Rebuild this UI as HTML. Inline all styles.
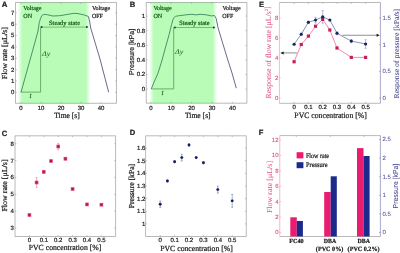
<!DOCTYPE html>
<html><head><meta charset="utf-8"><style>
html,body{margin:0;padding:0;background:#fff;}
svg{display:block;will-change:transform;}
</style></head><body>
<svg width="400" height="253" viewBox="0 0 400 253">
<rect width="400" height="253" fill="#fff"/>
<line x1="21" y1="103.3" x2="21" y2="101.9" stroke="#8c8c8c" stroke-width="0.5" />
<line x1="21" y1="2.5" x2="21" y2="3.9" stroke="#8c8c8c" stroke-width="0.5" />
<line x1="41" y1="103.3" x2="41" y2="101.9" stroke="#8c8c8c" stroke-width="0.5" />
<line x1="41" y1="2.5" x2="41" y2="3.9" stroke="#8c8c8c" stroke-width="0.5" />
<line x1="61" y1="103.3" x2="61" y2="101.9" stroke="#8c8c8c" stroke-width="0.5" />
<line x1="61" y1="2.5" x2="61" y2="3.9" stroke="#8c8c8c" stroke-width="0.5" />
<line x1="81" y1="103.3" x2="81" y2="101.9" stroke="#8c8c8c" stroke-width="0.5" />
<line x1="81" y1="2.5" x2="81" y2="3.9" stroke="#8c8c8c" stroke-width="0.5" />
<line x1="101" y1="103.3" x2="101" y2="101.9" stroke="#8c8c8c" stroke-width="0.5" />
<line x1="101" y1="2.5" x2="101" y2="3.9" stroke="#8c8c8c" stroke-width="0.5" />
<line x1="15.5" y1="92.3" x2="16.9" y2="92.3" stroke="#8c8c8c" stroke-width="0.5" />
<line x1="116.5" y1="92.3" x2="115.1" y2="92.3" stroke="#8c8c8c" stroke-width="0.5" />
<line x1="15.5" y1="80.95" x2="16.9" y2="80.95" stroke="#8c8c8c" stroke-width="0.5" />
<line x1="116.5" y1="80.95" x2="115.1" y2="80.95" stroke="#8c8c8c" stroke-width="0.5" />
<line x1="15.5" y1="69.6" x2="16.9" y2="69.6" stroke="#8c8c8c" stroke-width="0.5" />
<line x1="116.5" y1="69.6" x2="115.1" y2="69.6" stroke="#8c8c8c" stroke-width="0.5" />
<line x1="15.5" y1="58.25" x2="16.9" y2="58.25" stroke="#8c8c8c" stroke-width="0.5" />
<line x1="116.5" y1="58.25" x2="115.1" y2="58.25" stroke="#8c8c8c" stroke-width="0.5" />
<line x1="15.5" y1="46.9" x2="16.9" y2="46.9" stroke="#8c8c8c" stroke-width="0.5" />
<line x1="116.5" y1="46.9" x2="115.1" y2="46.9" stroke="#8c8c8c" stroke-width="0.5" />
<line x1="15.5" y1="35.55" x2="16.9" y2="35.55" stroke="#8c8c8c" stroke-width="0.5" />
<line x1="116.5" y1="35.55" x2="115.1" y2="35.55" stroke="#8c8c8c" stroke-width="0.5" />
<line x1="15.5" y1="24.2" x2="16.9" y2="24.2" stroke="#8c8c8c" stroke-width="0.5" />
<line x1="116.5" y1="24.2" x2="115.1" y2="24.2" stroke="#8c8c8c" stroke-width="0.5" />
<line x1="15.5" y1="12.85" x2="16.9" y2="12.85" stroke="#8c8c8c" stroke-width="0.5" />
<line x1="116.5" y1="12.85" x2="115.1" y2="12.85" stroke="#8c8c8c" stroke-width="0.5" />
<line x1="15.5" y1="2.5" x2="116.5" y2="2.5" stroke="#8c8c8c" stroke-width="0.6" />
<line x1="15.5" y1="103.3" x2="116.5" y2="103.3" stroke="#8c8c8c" stroke-width="0.6" />
<line x1="15.5" y1="2.5" x2="15.5" y2="103.3" stroke="#8c8c8c" stroke-width="0.6" />
<line x1="116.5" y1="2.5" x2="116.5" y2="103.3" stroke="#8c8c8c" stroke-width="0.6" />
<text x="21" y="108.5" font-family='"Liberation Sans", sans-serif' font-size="6.0" text-anchor="middle" dominant-baseline="central" text-rendering="geometricPrecision" fill="#1a1a1a" font-weight="normal" font-style="normal"  stroke="#1a1a1a" stroke-width="0.2">0</text>
<text x="41" y="108.5" font-family='"Liberation Sans", sans-serif' font-size="6.0" text-anchor="middle" dominant-baseline="central" text-rendering="geometricPrecision" fill="#1a1a1a" font-weight="normal" font-style="normal"  stroke="#1a1a1a" stroke-width="0.2">10</text>
<text x="61" y="108.5" font-family='"Liberation Sans", sans-serif' font-size="6.0" text-anchor="middle" dominant-baseline="central" text-rendering="geometricPrecision" fill="#1a1a1a" font-weight="normal" font-style="normal"  stroke="#1a1a1a" stroke-width="0.2">20</text>
<text x="81" y="108.5" font-family='"Liberation Sans", sans-serif' font-size="6.0" text-anchor="middle" dominant-baseline="central" text-rendering="geometricPrecision" fill="#1a1a1a" font-weight="normal" font-style="normal"  stroke="#1a1a1a" stroke-width="0.2">30</text>
<text x="101" y="108.5" font-family='"Liberation Sans", sans-serif' font-size="6.0" text-anchor="middle" dominant-baseline="central" text-rendering="geometricPrecision" fill="#1a1a1a" font-weight="normal" font-style="normal"  stroke="#1a1a1a" stroke-width="0.2">40</text>
<text x="14.3" y="93.2" font-family='"Liberation Sans", sans-serif' font-size="6.0" text-anchor="end" dominant-baseline="central" text-rendering="geometricPrecision" fill="#1a1a1a" font-weight="normal" font-style="normal"  stroke="#1a1a1a" stroke-width="0.2">0</text>
<text x="14.3" y="81.85" font-family='"Liberation Sans", sans-serif' font-size="6.0" text-anchor="end" dominant-baseline="central" text-rendering="geometricPrecision" fill="#1a1a1a" font-weight="normal" font-style="normal"  stroke="#1a1a1a" stroke-width="0.2">1</text>
<text x="14.3" y="70.5" font-family='"Liberation Sans", sans-serif' font-size="6.0" text-anchor="end" dominant-baseline="central" text-rendering="geometricPrecision" fill="#1a1a1a" font-weight="normal" font-style="normal"  stroke="#1a1a1a" stroke-width="0.2">2</text>
<text x="14.3" y="59.15" font-family='"Liberation Sans", sans-serif' font-size="6.0" text-anchor="end" dominant-baseline="central" text-rendering="geometricPrecision" fill="#1a1a1a" font-weight="normal" font-style="normal"  stroke="#1a1a1a" stroke-width="0.2">3</text>
<text x="14.3" y="47.8" font-family='"Liberation Sans", sans-serif' font-size="6.0" text-anchor="end" dominant-baseline="central" text-rendering="geometricPrecision" fill="#1a1a1a" font-weight="normal" font-style="normal"  stroke="#1a1a1a" stroke-width="0.2">4</text>
<text x="14.3" y="36.45" font-family='"Liberation Sans", sans-serif' font-size="6.0" text-anchor="end" dominant-baseline="central" text-rendering="geometricPrecision" fill="#1a1a1a" font-weight="normal" font-style="normal"  stroke="#1a1a1a" stroke-width="0.2">5</text>
<text x="14.3" y="25.1" font-family='"Liberation Sans", sans-serif' font-size="6.0" text-anchor="end" dominant-baseline="central" text-rendering="geometricPrecision" fill="#1a1a1a" font-weight="normal" font-style="normal"  stroke="#1a1a1a" stroke-width="0.2">6</text>
<text x="14.3" y="13.75" font-family='"Liberation Sans", sans-serif' font-size="6.0" text-anchor="end" dominant-baseline="central" text-rendering="geometricPrecision" fill="#1a1a1a" font-weight="normal" font-style="normal"  stroke="#1a1a1a" stroke-width="0.2">7</text>
<polyline points="21,92.3 37.8,32 39.3,22.5 40.6,18.2 42,15.4 43.7,14.4 47.2,14.7 52.8,16 59.8,15.7 68.2,14.3 73.8,13.3 78,13.6 84.3,15 88.3,16.4 89.6,21 90.7,28 100,59 108.7,92.3" fill="none" stroke="#62628a" stroke-width="0.95" stroke-linejoin="round" />
<polyline points="21,92.1 40.6,92.1 40.6,27.1" fill="none" stroke="#666" stroke-width="0.7" stroke-linejoin="round" />
<line x1="42.5" y1="27.1" x2="86.5" y2="27.1" stroke="#5a5a5a" stroke-width="0.55" />
<circle cx="41.6" cy="27.1" r="1.0" fill="#111"/>
<circle cx="86.9" cy="27.1" r="1.0" fill="#111"/>
<text x="64.5" y="23" font-family='"Liberation Serif", serif' font-size="6.5" text-anchor="middle" dominant-baseline="central" text-rendering="geometricPrecision" fill="#1a1a1a" font-weight="normal" font-style="normal" textLength="31" lengthAdjust="spacingAndGlyphs"  stroke="#1a1a1a" stroke-width="0.22">Steady state</text>
<text x="23.3" y="8.6" font-family='"Liberation Serif", serif' font-size="6.1" text-anchor="start" dominant-baseline="central" text-rendering="geometricPrecision" fill="#1a1a1a" font-weight="normal" font-style="normal" textLength="18.2" lengthAdjust="spacingAndGlyphs"  stroke="#1a1a1a" stroke-width="0.22">Voltage</text>
<text x="23.3" y="16.1" font-family='"Liberation Serif", serif' font-size="6.3" text-anchor="start" dominant-baseline="central" text-rendering="geometricPrecision" fill="#1a1a1a" font-weight="normal" font-style="normal" textLength="8.8" lengthAdjust="spacingAndGlyphs"  stroke="#1a1a1a" stroke-width="0.22">ON</text>
<text x="92" y="8.7" font-family='"Liberation Serif", serif' font-size="6.1" text-anchor="start" dominant-baseline="central" text-rendering="geometricPrecision" fill="#1a1a1a" font-weight="normal" font-style="normal" textLength="18.2" lengthAdjust="spacingAndGlyphs"  stroke="#1a1a1a" stroke-width="0.22">Voltage</text>
<text x="91.9" y="16.2" font-family='"Liberation Serif", serif' font-size="6.3" text-anchor="start" dominant-baseline="central" text-rendering="geometricPrecision" fill="#1a1a1a" font-weight="normal" font-style="normal" textLength="11" lengthAdjust="spacingAndGlyphs"  stroke="#1a1a1a" stroke-width="0.22">OFF</text>
<text x="30.6" y="95.8" font-family='"Liberation Serif", serif' font-size="7.5" text-anchor="middle" dominant-baseline="central" text-rendering="geometricPrecision" fill="#1a1a1a" font-weight="normal" font-style="italic"  stroke="#1a1a1a" stroke-width="0.1">t</text>
<text x="46.1" y="53.5" font-family='"Liberation Serif", serif' font-size="7.2" text-anchor="middle" dominant-baseline="central" text-rendering="geometricPrecision" fill="#1a1a1a" font-weight="normal" font-style="italic" textLength="8.3" lengthAdjust="spacingAndGlyphs" >&#916;y</text>
<linearGradient id="g1" gradientUnits="userSpaceOnUse" x1="17.9" y1="0" x2="90.3" y2="0"><stop offset="0" stop-color="#00f400" stop-opacity="0"/><stop offset="0.0608" stop-color="#00f400" stop-opacity="0.278"/><stop offset="0.9392" stop-color="#00f400" stop-opacity="0.278"/><stop offset="1" stop-color="#00f400" stop-opacity="0"/></linearGradient>
<rect x="17.9" y="2.5" width="72.4" height="100.8" fill="url(#g1)"/>
<text x="67" y="115.1" font-family='"Liberation Serif", serif' font-size="8.0" text-anchor="middle" dominant-baseline="central" text-rendering="geometricPrecision" fill="#1a1a1a" font-weight="normal" font-style="normal" textLength="25.6" lengthAdjust="spacingAndGlyphs"  stroke="#1a1a1a" stroke-width="0.22">Time [s]</text>
<text x="4.9" y="53.2" font-family='"Liberation Serif", serif' font-size="7.6" text-anchor="middle" dominant-baseline="central" text-rendering="geometricPrecision" fill="#1a1a1a" font-weight="normal" font-style="normal" textLength="52.2" lengthAdjust="spacingAndGlyphs" transform="rotate(-90 4.9 53.2)"  stroke="#1a1a1a" stroke-width="0.22">Flow rate [&#956;L/s]</text>
<text x="4.6" y="4.3" font-family='"Liberation Sans", sans-serif' font-size="7.8" text-anchor="middle" dominant-baseline="central" text-rendering="geometricPrecision" fill="#1a1a1a" font-weight="bold" font-style="normal"  stroke="#1a1a1a" stroke-width="0.2">A</text>
<line x1="150.8" y1="103.2" x2="150.8" y2="101.8" stroke="#8c8c8c" stroke-width="0.5" />
<line x1="150.8" y1="2.5" x2="150.8" y2="3.9" stroke="#8c8c8c" stroke-width="0.5" />
<line x1="171.2" y1="103.2" x2="171.2" y2="101.8" stroke="#8c8c8c" stroke-width="0.5" />
<line x1="171.2" y1="2.5" x2="171.2" y2="3.9" stroke="#8c8c8c" stroke-width="0.5" />
<line x1="191.6" y1="103.2" x2="191.6" y2="101.8" stroke="#8c8c8c" stroke-width="0.5" />
<line x1="191.6" y1="2.5" x2="191.6" y2="3.9" stroke="#8c8c8c" stroke-width="0.5" />
<line x1="212" y1="103.2" x2="212" y2="101.8" stroke="#8c8c8c" stroke-width="0.5" />
<line x1="212" y1="2.5" x2="212" y2="3.9" stroke="#8c8c8c" stroke-width="0.5" />
<line x1="232.4" y1="103.2" x2="232.4" y2="101.8" stroke="#8c8c8c" stroke-width="0.5" />
<line x1="232.4" y1="2.5" x2="232.4" y2="3.9" stroke="#8c8c8c" stroke-width="0.5" />
<line x1="146.3" y1="89.1" x2="147.7" y2="89.1" stroke="#8c8c8c" stroke-width="0.5" />
<line x1="246.9" y1="89.1" x2="245.5" y2="89.1" stroke="#8c8c8c" stroke-width="0.5" />
<line x1="146.3" y1="74.5" x2="147.7" y2="74.5" stroke="#8c8c8c" stroke-width="0.5" />
<line x1="246.9" y1="74.5" x2="245.5" y2="74.5" stroke="#8c8c8c" stroke-width="0.5" />
<line x1="146.3" y1="59.9" x2="147.7" y2="59.9" stroke="#8c8c8c" stroke-width="0.5" />
<line x1="246.9" y1="59.9" x2="245.5" y2="59.9" stroke="#8c8c8c" stroke-width="0.5" />
<line x1="146.3" y1="45.3" x2="147.7" y2="45.3" stroke="#8c8c8c" stroke-width="0.5" />
<line x1="246.9" y1="45.3" x2="245.5" y2="45.3" stroke="#8c8c8c" stroke-width="0.5" />
<line x1="146.3" y1="30.7" x2="147.7" y2="30.7" stroke="#8c8c8c" stroke-width="0.5" />
<line x1="246.9" y1="30.7" x2="245.5" y2="30.7" stroke="#8c8c8c" stroke-width="0.5" />
<line x1="146.3" y1="16.1" x2="147.7" y2="16.1" stroke="#8c8c8c" stroke-width="0.5" />
<line x1="246.9" y1="16.1" x2="245.5" y2="16.1" stroke="#8c8c8c" stroke-width="0.5" />
<line x1="146.3" y1="2.5" x2="246.9" y2="2.5" stroke="#8c8c8c" stroke-width="0.6" />
<line x1="146.3" y1="103.2" x2="246.9" y2="103.2" stroke="#8c8c8c" stroke-width="0.6" />
<line x1="146.3" y1="2.5" x2="146.3" y2="103.2" stroke="#8c8c8c" stroke-width="0.6" />
<line x1="246.9" y1="2.5" x2="246.9" y2="103.2" stroke="#8c8c8c" stroke-width="0.6" />
<text x="150.8" y="108.5" font-family='"Liberation Sans", sans-serif' font-size="6.0" text-anchor="middle" dominant-baseline="central" text-rendering="geometricPrecision" fill="#1a1a1a" font-weight="normal" font-style="normal"  stroke="#1a1a1a" stroke-width="0.2">0</text>
<text x="171.2" y="108.5" font-family='"Liberation Sans", sans-serif' font-size="6.0" text-anchor="middle" dominant-baseline="central" text-rendering="geometricPrecision" fill="#1a1a1a" font-weight="normal" font-style="normal"  stroke="#1a1a1a" stroke-width="0.2">10</text>
<text x="191.6" y="108.5" font-family='"Liberation Sans", sans-serif' font-size="6.0" text-anchor="middle" dominant-baseline="central" text-rendering="geometricPrecision" fill="#1a1a1a" font-weight="normal" font-style="normal"  stroke="#1a1a1a" stroke-width="0.2">20</text>
<text x="212" y="108.5" font-family='"Liberation Sans", sans-serif' font-size="6.0" text-anchor="middle" dominant-baseline="central" text-rendering="geometricPrecision" fill="#1a1a1a" font-weight="normal" font-style="normal"  stroke="#1a1a1a" stroke-width="0.2">30</text>
<text x="232.4" y="108.5" font-family='"Liberation Sans", sans-serif' font-size="6.0" text-anchor="middle" dominant-baseline="central" text-rendering="geometricPrecision" fill="#1a1a1a" font-weight="normal" font-style="normal"  stroke="#1a1a1a" stroke-width="0.2">40</text>
<text x="145.2" y="90" font-family='"Liberation Sans", sans-serif' font-size="6.0" text-anchor="end" dominant-baseline="central" text-rendering="geometricPrecision" fill="#1a1a1a" font-weight="normal" font-style="normal"  stroke="#1a1a1a" stroke-width="0.2">0</text>
<text x="145.2" y="75.4" font-family='"Liberation Sans", sans-serif' font-size="6.0" text-anchor="end" dominant-baseline="central" text-rendering="geometricPrecision" fill="#1a1a1a" font-weight="normal" font-style="normal"  stroke="#1a1a1a" stroke-width="0.2">0.2</text>
<text x="145.2" y="60.8" font-family='"Liberation Sans", sans-serif' font-size="6.0" text-anchor="end" dominant-baseline="central" text-rendering="geometricPrecision" fill="#1a1a1a" font-weight="normal" font-style="normal"  stroke="#1a1a1a" stroke-width="0.2">0.4</text>
<text x="145.2" y="46.2" font-family='"Liberation Sans", sans-serif' font-size="6.0" text-anchor="end" dominant-baseline="central" text-rendering="geometricPrecision" fill="#1a1a1a" font-weight="normal" font-style="normal"  stroke="#1a1a1a" stroke-width="0.2">0.6</text>
<text x="145.2" y="31.6" font-family='"Liberation Sans", sans-serif' font-size="6.0" text-anchor="end" dominant-baseline="central" text-rendering="geometricPrecision" fill="#1a1a1a" font-weight="normal" font-style="normal"  stroke="#1a1a1a" stroke-width="0.2">0.8</text>
<text x="145.2" y="17" font-family='"Liberation Sans", sans-serif' font-size="6.0" text-anchor="end" dominant-baseline="central" text-rendering="geometricPrecision" fill="#1a1a1a" font-weight="normal" font-style="normal"  stroke="#1a1a1a" stroke-width="0.2">1</text>
<polyline points="151.3,88.9 154.5,81 158,73.2 162.1,60 164.8,50 169.1,34.5 171.6,24.6 173,19.5 174.3,17.3 175.8,16.2 180,15.6 186.2,14.8 191.9,14.3 196.2,14.9 200,14.3 206.2,14.8 211.2,15.9 214.4,15.5 216.2,18.5 218.1,28 227.5,59 232,73 236.3,88.2" fill="none" stroke="#62628a" stroke-width="0.95" stroke-linejoin="round" />
<polyline points="151.3,88.9 173.7,88.9 173.7,27.5" fill="none" stroke="#666" stroke-width="0.7" stroke-linejoin="round" />
<line x1="175.5" y1="27.5" x2="213.2" y2="27.5" stroke="#5a5a5a" stroke-width="0.55" />
<circle cx="174.9" cy="27.5" r="1.0" fill="#111"/>
<circle cx="213.8" cy="27.5" r="1.0" fill="#111"/>
<text x="194.4" y="23.7" font-family='"Liberation Serif", serif' font-size="6.6" text-anchor="middle" dominant-baseline="central" text-rendering="geometricPrecision" fill="#1a1a1a" font-weight="normal" font-style="normal" textLength="30.5" lengthAdjust="spacingAndGlyphs"  stroke="#1a1a1a" stroke-width="0.22">Steady state</text>
<text x="153.4" y="8.9" font-family='"Liberation Serif", serif' font-size="6.1" text-anchor="start" dominant-baseline="central" text-rendering="geometricPrecision" fill="#1a1a1a" font-weight="normal" font-style="normal" textLength="18.2" lengthAdjust="spacingAndGlyphs"  stroke="#1a1a1a" stroke-width="0.22">Voltage</text>
<text x="153.4" y="16.4" font-family='"Liberation Serif", serif' font-size="6.3" text-anchor="start" dominant-baseline="central" text-rendering="geometricPrecision" fill="#1a1a1a" font-weight="normal" font-style="normal" textLength="8.8" lengthAdjust="spacingAndGlyphs"  stroke="#1a1a1a" stroke-width="0.22">ON</text>
<text x="222.5" y="9" font-family='"Liberation Serif", serif' font-size="6.1" text-anchor="start" dominant-baseline="central" text-rendering="geometricPrecision" fill="#1a1a1a" font-weight="normal" font-style="normal" textLength="18.2" lengthAdjust="spacingAndGlyphs"  stroke="#1a1a1a" stroke-width="0.22">Voltage</text>
<text x="222.3" y="16.5" font-family='"Liberation Serif", serif' font-size="6.3" text-anchor="start" dominant-baseline="central" text-rendering="geometricPrecision" fill="#1a1a1a" font-weight="normal" font-style="normal" textLength="11" lengthAdjust="spacingAndGlyphs"  stroke="#1a1a1a" stroke-width="0.22">OFF</text>
<text x="162.6" y="92.9" font-family='"Liberation Serif", serif' font-size="7.5" text-anchor="middle" dominant-baseline="central" text-rendering="geometricPrecision" fill="#1a1a1a" font-weight="normal" font-style="italic"  stroke="#1a1a1a" stroke-width="0.1">t</text>
<text x="179.2" y="51.9" font-family='"Liberation Serif", serif' font-size="7.2" text-anchor="middle" dominant-baseline="central" text-rendering="geometricPrecision" fill="#1a1a1a" font-weight="normal" font-style="italic" textLength="8.3" lengthAdjust="spacingAndGlyphs" >&#916;y</text>
<linearGradient id="g2" gradientUnits="userSpaceOnUse" x1="149.4" y1="0" x2="217" y2="0"><stop offset="0" stop-color="#00f400" stop-opacity="0"/><stop offset="0.0651" stop-color="#00f400" stop-opacity="0.278"/><stop offset="0.9349" stop-color="#00f400" stop-opacity="0.278"/><stop offset="1" stop-color="#00f400" stop-opacity="0"/></linearGradient>
<rect x="149.4" y="2.5" width="67.6" height="100.7" fill="url(#g2)"/>
<text x="197.8" y="115.3" font-family='"Liberation Serif", serif' font-size="8.0" text-anchor="middle" dominant-baseline="central" text-rendering="geometricPrecision" fill="#1a1a1a" font-weight="normal" font-style="normal" textLength="25.6" lengthAdjust="spacingAndGlyphs"  stroke="#1a1a1a" stroke-width="0.22">Time [s]</text>
<text x="131.1" y="51.9" font-family='"Liberation Sans", sans-serif' font-size="7.2" text-anchor="middle" dominant-baseline="central" text-rendering="geometricPrecision" fill="#1a1a1a" font-weight="normal" font-style="normal" textLength="46" lengthAdjust="spacingAndGlyphs" transform="rotate(-90 131.1 51.9)"  stroke="#1a1a1a" stroke-width="0.2">Pressure [kPa]</text>
<text x="132.5" y="4" font-family='"Liberation Sans", sans-serif' font-size="7.6" text-anchor="middle" dominant-baseline="central" text-rendering="geometricPrecision" fill="#1a1a1a" font-weight="bold" font-style="normal"  stroke="#1a1a1a" stroke-width="0.2">B</text>
<line x1="279.4" y1="2.5" x2="380.4" y2="2.5" stroke="#8c8c8c" stroke-width="0.6" />
<line x1="279.4" y1="103.3" x2="380.4" y2="103.3" stroke="#8c8c8c" stroke-width="0.6" />
<line x1="294.1" y1="103.3" x2="294.1" y2="101.9" stroke="#8c8c8c" stroke-width="0.5" />
<line x1="294.1" y1="2.5" x2="294.1" y2="3.9" stroke="#8c8c8c" stroke-width="0.5" />
<line x1="308.4" y1="103.3" x2="308.4" y2="101.9" stroke="#8c8c8c" stroke-width="0.5" />
<line x1="308.4" y1="2.5" x2="308.4" y2="3.9" stroke="#8c8c8c" stroke-width="0.5" />
<line x1="322.7" y1="103.3" x2="322.7" y2="101.9" stroke="#8c8c8c" stroke-width="0.5" />
<line x1="322.7" y1="2.5" x2="322.7" y2="3.9" stroke="#8c8c8c" stroke-width="0.5" />
<line x1="337" y1="103.3" x2="337" y2="101.9" stroke="#8c8c8c" stroke-width="0.5" />
<line x1="337" y1="2.5" x2="337" y2="3.9" stroke="#8c8c8c" stroke-width="0.5" />
<line x1="351.3" y1="103.3" x2="351.3" y2="101.9" stroke="#8c8c8c" stroke-width="0.5" />
<line x1="351.3" y1="2.5" x2="351.3" y2="3.9" stroke="#8c8c8c" stroke-width="0.5" />
<line x1="365.6" y1="103.3" x2="365.6" y2="101.9" stroke="#8c8c8c" stroke-width="0.5" />
<line x1="365.6" y1="2.5" x2="365.6" y2="3.9" stroke="#8c8c8c" stroke-width="0.5" />
<line x1="279.4" y1="2.5" x2="279.4" y2="103.3" stroke="#e58cae" stroke-width="0.6" />
<line x1="380.4" y1="2.5" x2="380.4" y2="103.3" stroke="#6d6daa" stroke-width="0.6" />
<line x1="279.4" y1="98" x2="280.8" y2="98" stroke="#e58cae" stroke-width="0.5" />
<text x="278.3" y="98.9" font-family='"Liberation Sans", sans-serif' font-size="6.0" text-anchor="end" dominant-baseline="central" text-rendering="geometricPrecision" fill="#e0457f" font-weight="normal" font-style="normal"  stroke="#e0457f" stroke-width="0.08">0</text>
<line x1="279.4" y1="78" x2="280.8" y2="78" stroke="#e58cae" stroke-width="0.5" />
<text x="278.3" y="78.9" font-family='"Liberation Sans", sans-serif' font-size="6.0" text-anchor="end" dominant-baseline="central" text-rendering="geometricPrecision" fill="#e0457f" font-weight="normal" font-style="normal"  stroke="#e0457f" stroke-width="0.08">2</text>
<line x1="279.4" y1="58" x2="280.8" y2="58" stroke="#e58cae" stroke-width="0.5" />
<text x="278.3" y="58.9" font-family='"Liberation Sans", sans-serif' font-size="6.0" text-anchor="end" dominant-baseline="central" text-rendering="geometricPrecision" fill="#e0457f" font-weight="normal" font-style="normal"  stroke="#e0457f" stroke-width="0.08">4</text>
<line x1="279.4" y1="38" x2="280.8" y2="38" stroke="#e58cae" stroke-width="0.5" />
<text x="278.3" y="38.9" font-family='"Liberation Sans", sans-serif' font-size="6.0" text-anchor="end" dominant-baseline="central" text-rendering="geometricPrecision" fill="#e0457f" font-weight="normal" font-style="normal"  stroke="#e0457f" stroke-width="0.08">6</text>
<line x1="279.4" y1="18" x2="280.8" y2="18" stroke="#e58cae" stroke-width="0.5" />
<text x="278.3" y="18.9" font-family='"Liberation Sans", sans-serif' font-size="6.0" text-anchor="end" dominant-baseline="central" text-rendering="geometricPrecision" fill="#e0457f" font-weight="normal" font-style="normal"  stroke="#e0457f" stroke-width="0.08">8</text>
<line x1="380.4" y1="98" x2="379" y2="98" stroke="#6d6daa" stroke-width="0.5" />
<text x="382.4" y="98.9" font-family='"Liberation Sans", sans-serif' font-size="6.0" text-anchor="start" dominant-baseline="central" text-rendering="geometricPrecision" fill="#5a5a9a" font-weight="normal" font-style="normal"  stroke="#5a5a9a" stroke-width="0.08">0</text>
<line x1="380.4" y1="71.34" x2="379" y2="71.34" stroke="#6d6daa" stroke-width="0.5" />
<text x="382.4" y="72.24" font-family='"Liberation Sans", sans-serif' font-size="6.0" text-anchor="start" dominant-baseline="central" text-rendering="geometricPrecision" fill="#5a5a9a" font-weight="normal" font-style="normal"  stroke="#5a5a9a" stroke-width="0.08">0.5</text>
<line x1="380.4" y1="44.67" x2="379" y2="44.67" stroke="#6d6daa" stroke-width="0.5" />
<text x="382.4" y="45.57" font-family='"Liberation Sans", sans-serif' font-size="6.0" text-anchor="start" dominant-baseline="central" text-rendering="geometricPrecision" fill="#5a5a9a" font-weight="normal" font-style="normal"  stroke="#5a5a9a" stroke-width="0.08">1</text>
<line x1="380.4" y1="18" x2="379" y2="18" stroke="#6d6daa" stroke-width="0.5" />
<text x="382.4" y="18.9" font-family='"Liberation Sans", sans-serif' font-size="6.0" text-anchor="start" dominant-baseline="central" text-rendering="geometricPrecision" fill="#5a5a9a" font-weight="normal" font-style="normal"  stroke="#5a5a9a" stroke-width="0.08">1.5</text>
<text x="294.1" y="108.2" font-family='"Liberation Sans", sans-serif' font-size="6.0" text-anchor="middle" dominant-baseline="central" text-rendering="geometricPrecision" fill="#1a1a1a" font-weight="normal" font-style="normal"  stroke="#1a1a1a" stroke-width="0.2">0</text>
<text x="308.4" y="108.2" font-family='"Liberation Sans", sans-serif' font-size="6.0" text-anchor="middle" dominant-baseline="central" text-rendering="geometricPrecision" fill="#1a1a1a" font-weight="normal" font-style="normal"  stroke="#1a1a1a" stroke-width="0.2">0.1</text>
<text x="322.7" y="108.2" font-family='"Liberation Sans", sans-serif' font-size="6.0" text-anchor="middle" dominant-baseline="central" text-rendering="geometricPrecision" fill="#1a1a1a" font-weight="normal" font-style="normal"  stroke="#1a1a1a" stroke-width="0.2">0.2</text>
<text x="337" y="108.2" font-family='"Liberation Sans", sans-serif' font-size="6.0" text-anchor="middle" dominant-baseline="central" text-rendering="geometricPrecision" fill="#1a1a1a" font-weight="normal" font-style="normal"  stroke="#1a1a1a" stroke-width="0.2">0.3</text>
<text x="351.3" y="108.2" font-family='"Liberation Sans", sans-serif' font-size="6.0" text-anchor="middle" dominant-baseline="central" text-rendering="geometricPrecision" fill="#1a1a1a" font-weight="normal" font-style="normal"  stroke="#1a1a1a" stroke-width="0.2">0.4</text>
<text x="365.6" y="108.2" font-family='"Liberation Sans", sans-serif' font-size="6.0" text-anchor="middle" dominant-baseline="central" text-rendering="geometricPrecision" fill="#1a1a1a" font-weight="normal" font-style="normal"  stroke="#1a1a1a" stroke-width="0.2">0.5</text>
<line x1="322.7" y1="10.6" x2="322.7" y2="23.2" stroke="#9aa0c8" stroke-width="0.7" />
<line x1="321.6" y1="10.6" x2="323.8" y2="10.6" stroke="#9aa0c8" stroke-width="0.7" />
<line x1="321.6" y1="23.2" x2="323.8" y2="23.2" stroke="#9aa0c8" stroke-width="0.7" />
<line x1="315.55" y1="17.3" x2="315.55" y2="23.1" stroke="#9aa0c8" stroke-width="0.7" />
<line x1="314.45" y1="17.3" x2="316.65" y2="17.3" stroke="#9aa0c8" stroke-width="0.7" />
<line x1="314.45" y1="23.1" x2="316.65" y2="23.1" stroke="#9aa0c8" stroke-width="0.7" />
<line x1="365.6" y1="39.7" x2="365.6" y2="48.3" stroke="#9aa0c8" stroke-width="0.7" />
<line x1="364.5" y1="39.7" x2="366.7" y2="39.7" stroke="#9aa0c8" stroke-width="0.7" />
<line x1="364.5" y1="48.3" x2="366.7" y2="48.3" stroke="#9aa0c8" stroke-width="0.7" />
<line x1="337" y1="31.75" x2="337" y2="34.75" stroke="#9aa0c8" stroke-width="0.7" />
<line x1="335.9" y1="31.75" x2="338.1" y2="31.75" stroke="#9aa0c8" stroke-width="0.7" />
<line x1="335.9" y1="34.75" x2="338.1" y2="34.75" stroke="#9aa0c8" stroke-width="0.7" />
<line x1="351.3" y1="39.6" x2="351.3" y2="42.6" stroke="#9aa0c8" stroke-width="0.7" />
<line x1="350.2" y1="39.6" x2="352.4" y2="39.6" stroke="#9aa0c8" stroke-width="0.7" />
<line x1="350.2" y1="42.6" x2="352.4" y2="42.6" stroke="#9aa0c8" stroke-width="0.7" />
<line x1="301.25" y1="33.1" x2="301.25" y2="35.5" stroke="#9aa0c8" stroke-width="0.7" />
<line x1="300.15" y1="33.1" x2="302.35" y2="33.1" stroke="#9aa0c8" stroke-width="0.7" />
<line x1="300.15" y1="35.5" x2="302.35" y2="35.5" stroke="#9aa0c8" stroke-width="0.7" />
<line x1="308.4" y1="21.1" x2="308.4" y2="23.5" stroke="#9aa0c8" stroke-width="0.7" />
<line x1="307.3" y1="21.1" x2="309.5" y2="21.1" stroke="#9aa0c8" stroke-width="0.7" />
<line x1="307.3" y1="23.5" x2="309.5" y2="23.5" stroke="#9aa0c8" stroke-width="0.7" />
<polyline points="294.1,61.75 301.25,44.5 308.4,36.1 315.55,26.25 322.7,19.4 329.85,30 337,48 351.3,57.4 365.6,57.4" fill="none" stroke="#ee4a7e" stroke-width="0.65" stroke-linejoin="round" />
<polyline points="294.1,44.25 301.25,34.25 308.4,22.25 315.55,20 322.7,16.9 329.85,20 337,33.25 351.3,41.1 365.6,44" fill="none" stroke="#4a5a96" stroke-width="0.65" stroke-linejoin="round" />
<rect x="292.5" y="60.15" width="3.2" height="3.2" fill="#c41f5a"/>
<rect x="299.65" y="42.9" width="3.2" height="3.2" fill="#c41f5a"/>
<rect x="306.8" y="34.5" width="3.2" height="3.2" fill="#c41f5a"/>
<rect x="313.95" y="24.65" width="3.2" height="3.2" fill="#c41f5a"/>
<rect x="321.1" y="17.8" width="3.2" height="3.2" fill="#c41f5a"/>
<rect x="328.25" y="28.4" width="3.2" height="3.2" fill="#c41f5a"/>
<rect x="335.4" y="46.4" width="3.2" height="3.2" fill="#c41f5a"/>
<rect x="349.7" y="55.8" width="3.2" height="3.2" fill="#c41f5a"/>
<rect x="364" y="55.8" width="3.2" height="3.2" fill="#c41f5a"/>
<circle cx="294.1" cy="44.25" r="1.6" fill="#182260"/>
<circle cx="301.25" cy="34.25" r="1.6" fill="#182260"/>
<circle cx="308.4" cy="22.25" r="1.6" fill="#182260"/>
<circle cx="315.55" cy="20" r="1.6" fill="#182260"/>
<circle cx="322.7" cy="16.9" r="1.6" fill="#182260"/>
<circle cx="329.85" cy="20" r="1.6" fill="#182260"/>
<circle cx="337" cy="33.25" r="1.6" fill="#182260"/>
<circle cx="351.3" cy="41.1" r="1.6" fill="#182260"/>
<circle cx="365.6" cy="44" r="1.6" fill="#182260"/>
<line x1="283" y1="52.9" x2="297" y2="52.9" stroke="#6a6a6a" stroke-width="0.75" />
<polygon points="280.4,52.9 283.6,51.4 283.6,54.4" fill="#111"/>
<line x1="342.5" y1="35.25" x2="377.5" y2="35.25" stroke="#6a6a6a" stroke-width="0.75" />
<polygon points="379.6,35.25 376.6,33.85 376.6,36.65" fill="#111"/>
<text x="330.6" y="115.1" font-family='"Liberation Serif", serif' font-size="8.2" text-anchor="middle" dominant-baseline="central" text-rendering="geometricPrecision" fill="#1a1a1a" font-weight="normal" font-style="normal" textLength="72.5" lengthAdjust="spacingAndGlyphs"  stroke="#1a1a1a" stroke-width="0.22">PVC concentration [%]</text>
<text x="268.7" y="52.4" font-family='"Liberation Serif", serif' font-size="7.83" text-anchor="middle" dominant-baseline="central" text-rendering="geometricPrecision" fill="#e2588c" font-weight="normal" font-style="normal" transform="rotate(-90 268.7 52.4)"  stroke="#e2588c" stroke-width="0.05">Response of flow rate [&#956;L/s<tspan dy="-1.6" font-size="4.8">2</tspan>]</text>
<text x="396.1" y="53.65" font-family='"Liberation Serif", serif' font-size="7.6" text-anchor="middle" dominant-baseline="central" text-rendering="geometricPrecision" fill="#4a4a90" font-weight="normal" font-style="normal" textLength="89.7" lengthAdjust="spacingAndGlyphs" transform="rotate(-90 396.1 53.65)"  stroke="#4a4a90" stroke-width="0.08">Response of pressure [kPa/s]</text>
<text x="261.5" y="4.2" font-family='"Liberation Sans", sans-serif' font-size="7.6" text-anchor="middle" dominant-baseline="central" text-rendering="geometricPrecision" fill="#1a1a1a" font-weight="bold" font-style="normal"  stroke="#1a1a1a" stroke-width="0.2">E</text>
<line x1="29.4" y1="236.5" x2="29.4" y2="235.1" stroke="#8c8c8c" stroke-width="0.5" />
<line x1="29.4" y1="135.8" x2="29.4" y2="137.2" stroke="#8c8c8c" stroke-width="0.5" />
<line x1="43.8" y1="236.5" x2="43.8" y2="235.1" stroke="#8c8c8c" stroke-width="0.5" />
<line x1="43.8" y1="135.8" x2="43.8" y2="137.2" stroke="#8c8c8c" stroke-width="0.5" />
<line x1="58.2" y1="236.5" x2="58.2" y2="235.1" stroke="#8c8c8c" stroke-width="0.5" />
<line x1="58.2" y1="135.8" x2="58.2" y2="137.2" stroke="#8c8c8c" stroke-width="0.5" />
<line x1="72.6" y1="236.5" x2="72.6" y2="235.1" stroke="#8c8c8c" stroke-width="0.5" />
<line x1="72.6" y1="135.8" x2="72.6" y2="137.2" stroke="#8c8c8c" stroke-width="0.5" />
<line x1="87" y1="236.5" x2="87" y2="235.1" stroke="#8c8c8c" stroke-width="0.5" />
<line x1="87" y1="135.8" x2="87" y2="137.2" stroke="#8c8c8c" stroke-width="0.5" />
<line x1="101.4" y1="236.5" x2="101.4" y2="235.1" stroke="#8c8c8c" stroke-width="0.5" />
<line x1="101.4" y1="135.8" x2="101.4" y2="137.2" stroke="#8c8c8c" stroke-width="0.5" />
<line x1="15" y1="228.1" x2="16.4" y2="228.1" stroke="#8c8c8c" stroke-width="0.5" />
<line x1="115.6" y1="228.1" x2="114.2" y2="228.1" stroke="#8c8c8c" stroke-width="0.5" />
<line x1="15" y1="211.23" x2="16.4" y2="211.23" stroke="#8c8c8c" stroke-width="0.5" />
<line x1="115.6" y1="211.23" x2="114.2" y2="211.23" stroke="#8c8c8c" stroke-width="0.5" />
<line x1="15" y1="194.36" x2="16.4" y2="194.36" stroke="#8c8c8c" stroke-width="0.5" />
<line x1="115.6" y1="194.36" x2="114.2" y2="194.36" stroke="#8c8c8c" stroke-width="0.5" />
<line x1="15" y1="177.49" x2="16.4" y2="177.49" stroke="#8c8c8c" stroke-width="0.5" />
<line x1="115.6" y1="177.49" x2="114.2" y2="177.49" stroke="#8c8c8c" stroke-width="0.5" />
<line x1="15" y1="160.62" x2="16.4" y2="160.62" stroke="#8c8c8c" stroke-width="0.5" />
<line x1="115.6" y1="160.62" x2="114.2" y2="160.62" stroke="#8c8c8c" stroke-width="0.5" />
<line x1="15" y1="143.75" x2="16.4" y2="143.75" stroke="#8c8c8c" stroke-width="0.5" />
<line x1="115.6" y1="143.75" x2="114.2" y2="143.75" stroke="#8c8c8c" stroke-width="0.5" />
<line x1="15" y1="135.8" x2="115.6" y2="135.8" stroke="#8c8c8c" stroke-width="0.6" />
<line x1="15" y1="236.5" x2="115.6" y2="236.5" stroke="#8c8c8c" stroke-width="0.6" />
<line x1="15" y1="135.8" x2="15" y2="236.5" stroke="#8c8c8c" stroke-width="0.6" />
<line x1="115.6" y1="135.8" x2="115.6" y2="236.5" stroke="#8c8c8c" stroke-width="0.6" />
<text x="29.4" y="240.9" font-family='"Liberation Sans", sans-serif' font-size="6.0" text-anchor="middle" dominant-baseline="central" text-rendering="geometricPrecision" fill="#1a1a1a" font-weight="normal" font-style="normal"  stroke="#1a1a1a" stroke-width="0.2">0</text>
<text x="43.8" y="240.9" font-family='"Liberation Sans", sans-serif' font-size="6.0" text-anchor="middle" dominant-baseline="central" text-rendering="geometricPrecision" fill="#1a1a1a" font-weight="normal" font-style="normal"  stroke="#1a1a1a" stroke-width="0.2">0.1</text>
<text x="58.2" y="240.9" font-family='"Liberation Sans", sans-serif' font-size="6.0" text-anchor="middle" dominant-baseline="central" text-rendering="geometricPrecision" fill="#1a1a1a" font-weight="normal" font-style="normal"  stroke="#1a1a1a" stroke-width="0.2">0.2</text>
<text x="72.6" y="240.9" font-family='"Liberation Sans", sans-serif' font-size="6.0" text-anchor="middle" dominant-baseline="central" text-rendering="geometricPrecision" fill="#1a1a1a" font-weight="normal" font-style="normal"  stroke="#1a1a1a" stroke-width="0.2">0.3</text>
<text x="87" y="240.9" font-family='"Liberation Sans", sans-serif' font-size="6.0" text-anchor="middle" dominant-baseline="central" text-rendering="geometricPrecision" fill="#1a1a1a" font-weight="normal" font-style="normal"  stroke="#1a1a1a" stroke-width="0.2">0.4</text>
<text x="101.4" y="240.9" font-family='"Liberation Sans", sans-serif' font-size="6.0" text-anchor="middle" dominant-baseline="central" text-rendering="geometricPrecision" fill="#1a1a1a" font-weight="normal" font-style="normal"  stroke="#1a1a1a" stroke-width="0.2">0.5</text>
<text x="13.8" y="229" font-family='"Liberation Sans", sans-serif' font-size="6.0" text-anchor="end" dominant-baseline="central" text-rendering="geometricPrecision" fill="#1a1a1a" font-weight="normal" font-style="normal"  stroke="#1a1a1a" stroke-width="0.2">3</text>
<text x="13.8" y="212.13" font-family='"Liberation Sans", sans-serif' font-size="6.0" text-anchor="end" dominant-baseline="central" text-rendering="geometricPrecision" fill="#1a1a1a" font-weight="normal" font-style="normal"  stroke="#1a1a1a" stroke-width="0.2">4</text>
<text x="13.8" y="195.26" font-family='"Liberation Sans", sans-serif' font-size="6.0" text-anchor="end" dominant-baseline="central" text-rendering="geometricPrecision" fill="#1a1a1a" font-weight="normal" font-style="normal"  stroke="#1a1a1a" stroke-width="0.2">5</text>
<text x="13.8" y="178.39" font-family='"Liberation Sans", sans-serif' font-size="6.0" text-anchor="end" dominant-baseline="central" text-rendering="geometricPrecision" fill="#1a1a1a" font-weight="normal" font-style="normal"  stroke="#1a1a1a" stroke-width="0.2">6</text>
<text x="13.8" y="161.52" font-family='"Liberation Sans", sans-serif' font-size="6.0" text-anchor="end" dominant-baseline="central" text-rendering="geometricPrecision" fill="#1a1a1a" font-weight="normal" font-style="normal"  stroke="#1a1a1a" stroke-width="0.2">7</text>
<text x="13.8" y="144.65" font-family='"Liberation Sans", sans-serif' font-size="6.0" text-anchor="end" dominant-baseline="central" text-rendering="geometricPrecision" fill="#1a1a1a" font-weight="normal" font-style="normal"  stroke="#1a1a1a" stroke-width="0.2">8</text>
<line x1="29.4" y1="213.5" x2="29.4" y2="216.5" stroke="#d86090" stroke-width="0.5" />
<line x1="28.5" y1="213.5" x2="30.3" y2="213.5" stroke="#d86090" stroke-width="0.5" />
<line x1="28.5" y1="216.5" x2="30.3" y2="216.5" stroke="#d86090" stroke-width="0.5" />
<rect x="27.6" y="213.2" width="3.6" height="3.6" fill="#e4487e"/>
<rect x="28.35" y="213.95" width="2.1" height="2.1" fill="#b01650"/>
<line x1="36.6" y1="177.5" x2="36.6" y2="187.5" stroke="#d86090" stroke-width="0.5" />
<line x1="35.7" y1="177.5" x2="37.5" y2="177.5" stroke="#d86090" stroke-width="0.5" />
<line x1="35.7" y1="187.5" x2="37.5" y2="187.5" stroke="#d86090" stroke-width="0.5" />
<rect x="34.8" y="180.7" width="3.6" height="3.6" fill="#e4487e"/>
<rect x="35.55" y="181.45" width="2.1" height="2.1" fill="#b01650"/>
<line x1="43.8" y1="170.4" x2="43.8" y2="173.4" stroke="#d86090" stroke-width="0.5" />
<line x1="42.9" y1="170.4" x2="44.7" y2="170.4" stroke="#d86090" stroke-width="0.5" />
<line x1="42.9" y1="173.4" x2="44.7" y2="173.4" stroke="#d86090" stroke-width="0.5" />
<rect x="42" y="170.1" width="3.6" height="3.6" fill="#e4487e"/>
<rect x="42.75" y="170.85" width="2.1" height="2.1" fill="#b01650"/>
<line x1="51" y1="160" x2="51" y2="162" stroke="#d86090" stroke-width="0.5" />
<line x1="50.1" y1="160" x2="51.9" y2="160" stroke="#d86090" stroke-width="0.5" />
<line x1="50.1" y1="162" x2="51.9" y2="162" stroke="#d86090" stroke-width="0.5" />
<rect x="49.2" y="159.2" width="3.6" height="3.6" fill="#e4487e"/>
<rect x="49.95" y="159.95" width="2.1" height="2.1" fill="#b01650"/>
<line x1="58.2" y1="143.3" x2="58.2" y2="149.7" stroke="#d86090" stroke-width="0.5" />
<line x1="57.3" y1="143.3" x2="59.1" y2="143.3" stroke="#d86090" stroke-width="0.5" />
<line x1="57.3" y1="149.7" x2="59.1" y2="149.7" stroke="#d86090" stroke-width="0.5" />
<rect x="56.4" y="144.7" width="3.6" height="3.6" fill="#e4487e"/>
<rect x="57.15" y="145.45" width="2.1" height="2.1" fill="#b01650"/>
<line x1="65.4" y1="157.25" x2="65.4" y2="160.25" stroke="#d86090" stroke-width="0.5" />
<line x1="64.5" y1="157.25" x2="66.3" y2="157.25" stroke="#d86090" stroke-width="0.5" />
<line x1="64.5" y1="160.25" x2="66.3" y2="160.25" stroke="#d86090" stroke-width="0.5" />
<rect x="63.6" y="156.95" width="3.6" height="3.6" fill="#e4487e"/>
<rect x="64.35" y="157.7" width="2.1" height="2.1" fill="#b01650"/>
<line x1="72.6" y1="188" x2="72.6" y2="190" stroke="#d86090" stroke-width="0.5" />
<line x1="71.7" y1="188" x2="73.5" y2="188" stroke="#d86090" stroke-width="0.5" />
<line x1="71.7" y1="190" x2="73.5" y2="190" stroke="#d86090" stroke-width="0.5" />
<rect x="70.8" y="187.2" width="3.6" height="3.6" fill="#e4487e"/>
<rect x="71.55" y="187.95" width="2.1" height="2.1" fill="#b01650"/>
<line x1="87" y1="203.4" x2="87" y2="205.4" stroke="#d86090" stroke-width="0.5" />
<line x1="86.1" y1="203.4" x2="87.9" y2="203.4" stroke="#d86090" stroke-width="0.5" />
<line x1="86.1" y1="205.4" x2="87.9" y2="205.4" stroke="#d86090" stroke-width="0.5" />
<rect x="85.2" y="202.6" width="3.6" height="3.6" fill="#e4487e"/>
<rect x="85.95" y="203.35" width="2.1" height="2.1" fill="#b01650"/>
<line x1="101.4" y1="203.75" x2="101.4" y2="205.75" stroke="#d86090" stroke-width="0.5" />
<line x1="100.5" y1="203.75" x2="102.3" y2="203.75" stroke="#d86090" stroke-width="0.5" />
<line x1="100.5" y1="205.75" x2="102.3" y2="205.75" stroke="#d86090" stroke-width="0.5" />
<rect x="99.6" y="202.95" width="3.6" height="3.6" fill="#e4487e"/>
<rect x="100.35" y="203.7" width="2.1" height="2.1" fill="#b01650"/>
<text x="65" y="247.65" font-family='"Liberation Serif", serif' font-size="7.8" text-anchor="middle" dominant-baseline="central" text-rendering="geometricPrecision" fill="#1a1a1a" font-weight="normal" font-style="normal" textLength="72.5" lengthAdjust="spacingAndGlyphs"  stroke="#1a1a1a" stroke-width="0.22">PVC concentration [%]</text>
<text x="4.4" y="185.5" font-family='"Liberation Serif", serif' font-size="7.6" text-anchor="middle" dominant-baseline="central" text-rendering="geometricPrecision" fill="#1a1a1a" font-weight="normal" font-style="normal" textLength="52.2" lengthAdjust="spacingAndGlyphs" transform="rotate(-90 4.4 185.5)"  stroke="#1a1a1a" stroke-width="0.22">Flow rate [&#956;L/s]</text>
<text x="4.4" y="133" font-family='"Liberation Sans", sans-serif' font-size="7.6" text-anchor="middle" dominant-baseline="central" text-rendering="geometricPrecision" fill="#1a1a1a" font-weight="bold" font-style="normal"  stroke="#1a1a1a" stroke-width="0.2">C</text>
<line x1="160.2" y1="236.5" x2="160.2" y2="235.1" stroke="#8c8c8c" stroke-width="0.5" />
<line x1="160.2" y1="135.8" x2="160.2" y2="137.2" stroke="#8c8c8c" stroke-width="0.5" />
<line x1="174.6" y1="236.5" x2="174.6" y2="235.1" stroke="#8c8c8c" stroke-width="0.5" />
<line x1="174.6" y1="135.8" x2="174.6" y2="137.2" stroke="#8c8c8c" stroke-width="0.5" />
<line x1="189" y1="236.5" x2="189" y2="235.1" stroke="#8c8c8c" stroke-width="0.5" />
<line x1="189" y1="135.8" x2="189" y2="137.2" stroke="#8c8c8c" stroke-width="0.5" />
<line x1="203.4" y1="236.5" x2="203.4" y2="235.1" stroke="#8c8c8c" stroke-width="0.5" />
<line x1="203.4" y1="135.8" x2="203.4" y2="137.2" stroke="#8c8c8c" stroke-width="0.5" />
<line x1="217.8" y1="236.5" x2="217.8" y2="235.1" stroke="#8c8c8c" stroke-width="0.5" />
<line x1="217.8" y1="135.8" x2="217.8" y2="137.2" stroke="#8c8c8c" stroke-width="0.5" />
<line x1="232.2" y1="236.5" x2="232.2" y2="235.1" stroke="#8c8c8c" stroke-width="0.5" />
<line x1="232.2" y1="135.8" x2="232.2" y2="137.2" stroke="#8c8c8c" stroke-width="0.5" />
<line x1="145.6" y1="223.9" x2="147" y2="223.9" stroke="#8c8c8c" stroke-width="0.5" />
<line x1="246.3" y1="223.9" x2="244.9" y2="223.9" stroke="#8c8c8c" stroke-width="0.5" />
<line x1="145.6" y1="211.27" x2="147" y2="211.27" stroke="#8c8c8c" stroke-width="0.5" />
<line x1="246.3" y1="211.27" x2="244.9" y2="211.27" stroke="#8c8c8c" stroke-width="0.5" />
<line x1="145.6" y1="198.64" x2="147" y2="198.64" stroke="#8c8c8c" stroke-width="0.5" />
<line x1="246.3" y1="198.64" x2="244.9" y2="198.64" stroke="#8c8c8c" stroke-width="0.5" />
<line x1="145.6" y1="186.01" x2="147" y2="186.01" stroke="#8c8c8c" stroke-width="0.5" />
<line x1="246.3" y1="186.01" x2="244.9" y2="186.01" stroke="#8c8c8c" stroke-width="0.5" />
<line x1="145.6" y1="173.38" x2="147" y2="173.38" stroke="#8c8c8c" stroke-width="0.5" />
<line x1="246.3" y1="173.38" x2="244.9" y2="173.38" stroke="#8c8c8c" stroke-width="0.5" />
<line x1="145.6" y1="160.75" x2="147" y2="160.75" stroke="#8c8c8c" stroke-width="0.5" />
<line x1="246.3" y1="160.75" x2="244.9" y2="160.75" stroke="#8c8c8c" stroke-width="0.5" />
<line x1="145.6" y1="148.12" x2="147" y2="148.12" stroke="#8c8c8c" stroke-width="0.5" />
<line x1="246.3" y1="148.12" x2="244.9" y2="148.12" stroke="#8c8c8c" stroke-width="0.5" />
<line x1="145.6" y1="135.8" x2="246.3" y2="135.8" stroke="#8c8c8c" stroke-width="0.6" />
<line x1="145.6" y1="236.5" x2="246.3" y2="236.5" stroke="#8c8c8c" stroke-width="0.6" />
<line x1="145.6" y1="135.8" x2="145.6" y2="236.5" stroke="#8c8c8c" stroke-width="0.6" />
<line x1="246.3" y1="135.8" x2="246.3" y2="236.5" stroke="#8c8c8c" stroke-width="0.6" />
<text x="160.2" y="240.9" font-family='"Liberation Sans", sans-serif' font-size="6.0" text-anchor="middle" dominant-baseline="central" text-rendering="geometricPrecision" fill="#1a1a1a" font-weight="normal" font-style="normal"  stroke="#1a1a1a" stroke-width="0.2">0</text>
<text x="174.6" y="240.9" font-family='"Liberation Sans", sans-serif' font-size="6.0" text-anchor="middle" dominant-baseline="central" text-rendering="geometricPrecision" fill="#1a1a1a" font-weight="normal" font-style="normal"  stroke="#1a1a1a" stroke-width="0.2">0.1</text>
<text x="189" y="240.9" font-family='"Liberation Sans", sans-serif' font-size="6.0" text-anchor="middle" dominant-baseline="central" text-rendering="geometricPrecision" fill="#1a1a1a" font-weight="normal" font-style="normal"  stroke="#1a1a1a" stroke-width="0.2">0.2</text>
<text x="203.4" y="240.9" font-family='"Liberation Sans", sans-serif' font-size="6.0" text-anchor="middle" dominant-baseline="central" text-rendering="geometricPrecision" fill="#1a1a1a" font-weight="normal" font-style="normal"  stroke="#1a1a1a" stroke-width="0.2">0.3</text>
<text x="217.8" y="240.9" font-family='"Liberation Sans", sans-serif' font-size="6.0" text-anchor="middle" dominant-baseline="central" text-rendering="geometricPrecision" fill="#1a1a1a" font-weight="normal" font-style="normal"  stroke="#1a1a1a" stroke-width="0.2">0.4</text>
<text x="232.2" y="240.9" font-family='"Liberation Sans", sans-serif' font-size="6.0" text-anchor="middle" dominant-baseline="central" text-rendering="geometricPrecision" fill="#1a1a1a" font-weight="normal" font-style="normal"  stroke="#1a1a1a" stroke-width="0.2">0.5</text>
<text x="145.4" y="224.8" font-family='"Liberation Sans", sans-serif' font-size="6.0" text-anchor="end" dominant-baseline="central" text-rendering="geometricPrecision" fill="#1a1a1a" font-weight="normal" font-style="normal"  stroke="#1a1a1a" stroke-width="0.2">1</text>
<text x="145.4" y="212.17" font-family='"Liberation Sans", sans-serif' font-size="6.0" text-anchor="end" dominant-baseline="central" text-rendering="geometricPrecision" fill="#1a1a1a" font-weight="normal" font-style="normal"  stroke="#1a1a1a" stroke-width="0.2">1.1</text>
<text x="145.4" y="199.54" font-family='"Liberation Sans", sans-serif' font-size="6.0" text-anchor="end" dominant-baseline="central" text-rendering="geometricPrecision" fill="#1a1a1a" font-weight="normal" font-style="normal"  stroke="#1a1a1a" stroke-width="0.2">1.2</text>
<text x="145.4" y="186.91" font-family='"Liberation Sans", sans-serif' font-size="6.0" text-anchor="end" dominant-baseline="central" text-rendering="geometricPrecision" fill="#1a1a1a" font-weight="normal" font-style="normal"  stroke="#1a1a1a" stroke-width="0.2">1.3</text>
<text x="145.4" y="174.28" font-family='"Liberation Sans", sans-serif' font-size="6.0" text-anchor="end" dominant-baseline="central" text-rendering="geometricPrecision" fill="#1a1a1a" font-weight="normal" font-style="normal"  stroke="#1a1a1a" stroke-width="0.2">1.4</text>
<text x="145.4" y="161.65" font-family='"Liberation Sans", sans-serif' font-size="6.0" text-anchor="end" dominant-baseline="central" text-rendering="geometricPrecision" fill="#1a1a1a" font-weight="normal" font-style="normal"  stroke="#1a1a1a" stroke-width="0.2">1.5</text>
<text x="145.4" y="149.02" font-family='"Liberation Sans", sans-serif' font-size="6.0" text-anchor="end" dominant-baseline="central" text-rendering="geometricPrecision" fill="#1a1a1a" font-weight="normal" font-style="normal"  stroke="#1a1a1a" stroke-width="0.2">1.6</text>
<line x1="160.2" y1="201" x2="160.2" y2="207.4" stroke="#4f5a98" stroke-width="0.5" />
<line x1="159.3" y1="201" x2="161.1" y2="201" stroke="#4f5a98" stroke-width="0.5" />
<line x1="159.3" y1="207.4" x2="161.1" y2="207.4" stroke="#4f5a98" stroke-width="0.5" />
<circle cx="160.2" cy="204.2" r="1.45" fill="#141e60"/>
<line x1="167.4" y1="180" x2="167.4" y2="182" stroke="#4f5a98" stroke-width="0.5" />
<line x1="166.5" y1="180" x2="168.3" y2="180" stroke="#4f5a98" stroke-width="0.5" />
<line x1="166.5" y1="182" x2="168.3" y2="182" stroke="#4f5a98" stroke-width="0.5" />
<circle cx="167.4" cy="181" r="1.45" fill="#141e60"/>
<line x1="174.6" y1="160.75" x2="174.6" y2="162.75" stroke="#4f5a98" stroke-width="0.5" />
<line x1="173.7" y1="160.75" x2="175.5" y2="160.75" stroke="#4f5a98" stroke-width="0.5" />
<line x1="173.7" y1="162.75" x2="175.5" y2="162.75" stroke="#4f5a98" stroke-width="0.5" />
<circle cx="174.6" cy="161.75" r="1.45" fill="#141e60"/>
<line x1="181.8" y1="154.3" x2="181.8" y2="160.9" stroke="#4f5a98" stroke-width="0.5" />
<line x1="180.9" y1="154.3" x2="182.7" y2="154.3" stroke="#4f5a98" stroke-width="0.5" />
<line x1="180.9" y1="160.9" x2="182.7" y2="160.9" stroke="#4f5a98" stroke-width="0.5" />
<circle cx="181.8" cy="157.6" r="1.45" fill="#141e60"/>
<line x1="189" y1="143.8" x2="189" y2="146.2" stroke="#4f5a98" stroke-width="0.5" />
<line x1="188.1" y1="143.8" x2="189.9" y2="143.8" stroke="#4f5a98" stroke-width="0.5" />
<line x1="188.1" y1="146.2" x2="189.9" y2="146.2" stroke="#4f5a98" stroke-width="0.5" />
<circle cx="189" cy="145" r="1.45" fill="#141e60"/>
<line x1="196.2" y1="156.6" x2="196.2" y2="158.6" stroke="#4f5a98" stroke-width="0.5" />
<line x1="195.3" y1="156.6" x2="197.1" y2="156.6" stroke="#4f5a98" stroke-width="0.5" />
<line x1="195.3" y1="158.6" x2="197.1" y2="158.6" stroke="#4f5a98" stroke-width="0.5" />
<circle cx="196.2" cy="157.6" r="1.45" fill="#141e60"/>
<line x1="203.4" y1="161.8" x2="203.4" y2="163.8" stroke="#4f5a98" stroke-width="0.5" />
<line x1="202.5" y1="161.8" x2="204.3" y2="161.8" stroke="#4f5a98" stroke-width="0.5" />
<line x1="202.5" y1="163.8" x2="204.3" y2="163.8" stroke="#4f5a98" stroke-width="0.5" />
<circle cx="203.4" cy="162.8" r="1.45" fill="#141e60"/>
<line x1="217.8" y1="186.1" x2="217.8" y2="193.1" stroke="#4f5a98" stroke-width="0.5" />
<line x1="216.9" y1="186.1" x2="218.7" y2="186.1" stroke="#4f5a98" stroke-width="0.5" />
<line x1="216.9" y1="193.1" x2="218.7" y2="193.1" stroke="#4f5a98" stroke-width="0.5" />
<circle cx="217.8" cy="189.6" r="1.45" fill="#141e60"/>
<line x1="232.2" y1="194.35" x2="232.2" y2="207.35" stroke="#4f5a98" stroke-width="0.5" />
<line x1="231.3" y1="194.35" x2="233.1" y2="194.35" stroke="#4f5a98" stroke-width="0.5" />
<line x1="231.3" y1="207.35" x2="233.1" y2="207.35" stroke="#4f5a98" stroke-width="0.5" />
<circle cx="232.2" cy="200.85" r="1.45" fill="#141e60"/>
<text x="196.5" y="248.4" font-family='"Liberation Serif", serif' font-size="7.8" text-anchor="middle" dominant-baseline="central" text-rendering="geometricPrecision" fill="#1a1a1a" font-weight="normal" font-style="normal" textLength="72.5" lengthAdjust="spacingAndGlyphs"  stroke="#1a1a1a" stroke-width="0.22">PVC concentration [%]</text>
<text x="131.7" y="186.1" font-family='"Liberation Serif", serif' font-size="7.6" text-anchor="middle" dominant-baseline="central" text-rendering="geometricPrecision" fill="#1a1a1a" font-weight="normal" font-style="normal" textLength="44.4" lengthAdjust="spacingAndGlyphs" transform="rotate(-90 131.7 186.1)"  stroke="#1a1a1a" stroke-width="0.22">Pressure [kPa]</text>
<text x="132.5" y="132.8" font-family='"Liberation Sans", sans-serif' font-size="7.6" text-anchor="middle" dominant-baseline="central" text-rendering="geometricPrecision" fill="#1a1a1a" font-weight="bold" font-style="normal"  stroke="#1a1a1a" stroke-width="0.2">D</text>
<line x1="279.75" y1="135.6" x2="380.4" y2="135.6" stroke="#8c8c8c" stroke-width="0.6" />
<line x1="279.75" y1="236.5" x2="380.4" y2="236.5" stroke="#8c8c8c" stroke-width="0.6" />
<line x1="279.75" y1="135.6" x2="279.75" y2="236.5" stroke="#e58cae" stroke-width="0.6" />
<line x1="380.4" y1="135.6" x2="380.4" y2="236.5" stroke="#6d6daa" stroke-width="0.6" />
<line x1="296.3" y1="135.6" x2="296.3" y2="137" stroke="#8c8c8c" stroke-width="0.5" />
<line x1="330.4" y1="135.6" x2="330.4" y2="137" stroke="#8c8c8c" stroke-width="0.5" />
<line x1="363.8" y1="135.6" x2="363.8" y2="137" stroke="#8c8c8c" stroke-width="0.5" />
<line x1="279.75" y1="232.5" x2="281.15" y2="232.5" stroke="#e58cae" stroke-width="0.5" />
<text x="278.5" y="233.4" font-family='"Liberation Sans", sans-serif' font-size="6.0" text-anchor="end" dominant-baseline="central" text-rendering="geometricPrecision" fill="#e0457f" font-weight="normal" font-style="normal"  stroke="#e0457f" stroke-width="0.08">0</text>
<line x1="279.75" y1="217.08" x2="281.15" y2="217.08" stroke="#e58cae" stroke-width="0.5" />
<text x="278.5" y="217.98" font-family='"Liberation Sans", sans-serif' font-size="6.0" text-anchor="end" dominant-baseline="central" text-rendering="geometricPrecision" fill="#e0457f" font-weight="normal" font-style="normal"  stroke="#e0457f" stroke-width="0.08">2</text>
<line x1="279.75" y1="201.66" x2="281.15" y2="201.66" stroke="#e58cae" stroke-width="0.5" />
<text x="278.5" y="202.56" font-family='"Liberation Sans", sans-serif' font-size="6.0" text-anchor="end" dominant-baseline="central" text-rendering="geometricPrecision" fill="#e0457f" font-weight="normal" font-style="normal"  stroke="#e0457f" stroke-width="0.08">4</text>
<line x1="279.75" y1="186.24" x2="281.15" y2="186.24" stroke="#e58cae" stroke-width="0.5" />
<text x="278.5" y="187.14" font-family='"Liberation Sans", sans-serif' font-size="6.0" text-anchor="end" dominant-baseline="central" text-rendering="geometricPrecision" fill="#e0457f" font-weight="normal" font-style="normal"  stroke="#e0457f" stroke-width="0.08">6</text>
<line x1="279.75" y1="170.82" x2="281.15" y2="170.82" stroke="#e58cae" stroke-width="0.5" />
<text x="278.5" y="171.72" font-family='"Liberation Sans", sans-serif' font-size="6.0" text-anchor="end" dominant-baseline="central" text-rendering="geometricPrecision" fill="#e0457f" font-weight="normal" font-style="normal"  stroke="#e0457f" stroke-width="0.08">8</text>
<line x1="279.75" y1="155.4" x2="281.15" y2="155.4" stroke="#e58cae" stroke-width="0.5" />
<text x="278.5" y="156.3" font-family='"Liberation Sans", sans-serif' font-size="6.0" text-anchor="end" dominant-baseline="central" text-rendering="geometricPrecision" fill="#e0457f" font-weight="normal" font-style="normal"  stroke="#e0457f" stroke-width="0.08">10</text>
<line x1="279.75" y1="139.98" x2="281.15" y2="139.98" stroke="#e58cae" stroke-width="0.5" />
<text x="278.5" y="140.88" font-family='"Liberation Sans", sans-serif' font-size="6.0" text-anchor="end" dominant-baseline="central" text-rendering="geometricPrecision" fill="#e0457f" font-weight="normal" font-style="normal"  stroke="#e0457f" stroke-width="0.08">12</text>
<line x1="380.4" y1="232.5" x2="379" y2="232.5" stroke="#6d6daa" stroke-width="0.5" />
<text x="382.4" y="233.4" font-family='"Liberation Sans", sans-serif' font-size="6.0" text-anchor="start" dominant-baseline="central" text-rendering="geometricPrecision" fill="#5a5a9a" font-weight="normal" font-style="normal"  stroke="#5a5a9a" stroke-width="0.08">0</text>
<line x1="380.4" y1="213.9" x2="379" y2="213.9" stroke="#6d6daa" stroke-width="0.5" />
<text x="382.4" y="214.8" font-family='"Liberation Sans", sans-serif' font-size="6.0" text-anchor="start" dominant-baseline="central" text-rendering="geometricPrecision" fill="#5a5a9a" font-weight="normal" font-style="normal"  stroke="#5a5a9a" stroke-width="0.08">0.5</text>
<line x1="380.4" y1="195.3" x2="379" y2="195.3" stroke="#6d6daa" stroke-width="0.5" />
<text x="382.4" y="196.2" font-family='"Liberation Sans", sans-serif' font-size="6.0" text-anchor="start" dominant-baseline="central" text-rendering="geometricPrecision" fill="#5a5a9a" font-weight="normal" font-style="normal"  stroke="#5a5a9a" stroke-width="0.08">1</text>
<line x1="380.4" y1="176.7" x2="379" y2="176.7" stroke="#6d6daa" stroke-width="0.5" />
<text x="382.4" y="177.6" font-family='"Liberation Sans", sans-serif' font-size="6.0" text-anchor="start" dominant-baseline="central" text-rendering="geometricPrecision" fill="#5a5a9a" font-weight="normal" font-style="normal"  stroke="#5a5a9a" stroke-width="0.08">1.5</text>
<line x1="380.4" y1="158.1" x2="379" y2="158.1" stroke="#6d6daa" stroke-width="0.5" />
<text x="382.4" y="159" font-family='"Liberation Sans", sans-serif' font-size="6.0" text-anchor="start" dominant-baseline="central" text-rendering="geometricPrecision" fill="#5a5a9a" font-weight="normal" font-style="normal"  stroke="#5a5a9a" stroke-width="0.08">2</text>
<line x1="380.4" y1="139.5" x2="379" y2="139.5" stroke="#6d6daa" stroke-width="0.5" />
<text x="382.4" y="140.4" font-family='"Liberation Sans", sans-serif' font-size="6.0" text-anchor="start" dominant-baseline="central" text-rendering="geometricPrecision" fill="#5a5a9a" font-weight="normal" font-style="normal"  stroke="#5a5a9a" stroke-width="0.08">2.5</text>
<rect x="290.3" y="217.3" width="6.5" height="19.19999999999999" fill="#ea1c70"/>
<rect x="296.8" y="221" width="6.1" height="15.5" fill="#1c2a8c"/>
<rect x="324.2" y="192" width="6.5" height="44.5" fill="#ea1c70"/>
<rect x="330.7" y="176.3" width="6.1" height="60.19999999999999" fill="#1c2a8c"/>
<rect x="357.0" y="148.1" width="6.5" height="88.4" fill="#ea1c70"/>
<rect x="363.5" y="156" width="6.1" height="80.5" fill="#1c2a8c"/>
<rect x="296.6" y="152.2" width="6.8" height="6.2" fill="#ea1c70"/>
<rect x="296.6" y="162.2" width="6.8" height="6" fill="#1c2a8c"/>
<text x="306" y="155.6" font-family='"Liberation Serif", serif' font-size="7" text-anchor="start" dominant-baseline="central" text-rendering="geometricPrecision" fill="#1a1a1a" font-weight="normal" font-style="normal" textLength="23" lengthAdjust="spacingAndGlyphs"  stroke="#1a1a1a" stroke-width="0.22">Flow rate</text>
<text x="306" y="165.4" font-family='"Liberation Serif", serif' font-size="7" text-anchor="start" dominant-baseline="central" text-rendering="geometricPrecision" fill="#1a1a1a" font-weight="normal" font-style="normal" textLength="21.5" lengthAdjust="spacingAndGlyphs"  stroke="#1a1a1a" stroke-width="0.22">Pressure</text>
<text x="296.5" y="241.3" font-family='"Liberation Serif", serif' font-size="6.2" text-anchor="middle" dominant-baseline="central" text-rendering="geometricPrecision" fill="#1a1a1a" font-weight="bold" font-style="normal" textLength="14.3" lengthAdjust="spacingAndGlyphs"  stroke="#1a1a1a" stroke-width="0.22">FC40</text>
<text x="330" y="241.3" font-family='"Liberation Serif", serif' font-size="6.2" text-anchor="middle" dominant-baseline="central" text-rendering="geometricPrecision" fill="#1a1a1a" font-weight="bold" font-style="normal" textLength="12.5" lengthAdjust="spacingAndGlyphs"  stroke="#1a1a1a" stroke-width="0.22">DBA</text>
<text x="363.7" y="241.3" font-family='"Liberation Serif", serif' font-size="6.2" text-anchor="middle" dominant-baseline="central" text-rendering="geometricPrecision" fill="#1a1a1a" font-weight="bold" font-style="normal" textLength="12.5" lengthAdjust="spacingAndGlyphs"  stroke="#1a1a1a" stroke-width="0.22">DBA</text>
<text x="329.6" y="249.3" font-family='"Liberation Serif", serif' font-size="6.5" text-anchor="middle" dominant-baseline="central" text-rendering="geometricPrecision" fill="#1a1a1a" font-weight="bold" font-style="normal" textLength="27.5" lengthAdjust="spacingAndGlyphs"  stroke="#1a1a1a" stroke-width="0.22">(PVC 0%)</text>
<text x="363.6" y="249.3" font-family='"Liberation Serif", serif' font-size="6.5" text-anchor="middle" dominant-baseline="central" text-rendering="geometricPrecision" fill="#1a1a1a" font-weight="bold" font-style="normal" textLength="32" lengthAdjust="spacingAndGlyphs"  stroke="#1a1a1a" stroke-width="0.22">(PVC 0.2%)</text>
<text x="269.3" y="187" font-family='"Liberation Serif", serif' font-size="7.6" text-anchor="middle" dominant-baseline="central" text-rendering="geometricPrecision" fill="#e2588c" font-weight="normal" font-style="normal" textLength="52.2" lengthAdjust="spacingAndGlyphs" transform="rotate(-90 269.3 187)"  stroke="#e2588c" stroke-width="0.05">Flow rate [&#956;L/s]</text>
<text x="395.5" y="186.15" font-family='"Liberation Sans", sans-serif' font-size="7.2" text-anchor="middle" dominant-baseline="central" text-rendering="geometricPrecision" fill="#4a4a90" font-weight="normal" font-style="normal" textLength="44.5" lengthAdjust="spacingAndGlyphs" transform="rotate(-90 395.5 186.15)"  stroke="#4a4a90" stroke-width="0.08">Pressure [kPa]</text>
<text x="261" y="132.8" font-family='"Liberation Sans", sans-serif' font-size="7.6" text-anchor="middle" dominant-baseline="central" text-rendering="geometricPrecision" fill="#1a1a1a" font-weight="bold" font-style="normal"  stroke="#1a1a1a" stroke-width="0.2">F</text>
</svg>
</body></html>
